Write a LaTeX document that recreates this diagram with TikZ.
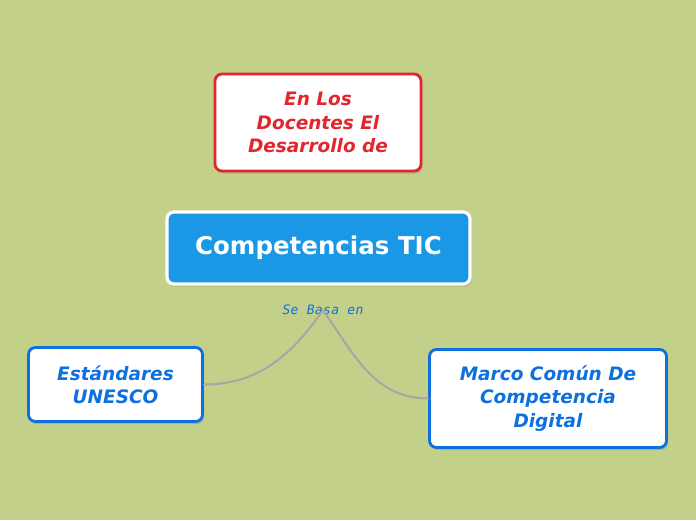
\documentclass[tikz,border=0pt]{standalone}
\usepackage{fontspec}
\setmainfont{DejaVu Sans}
\newfontfamily\basafont[LetterSpace=3]{DejaVu Sans Mono}
\usetikzlibrary{shadows}
\definecolor{mmbg}{RGB}{194, 208, 138}
\definecolor{mmred}{RGB}{226, 38, 46}
\definecolor{mmblue}{RGB}{26, 152, 230}
\definecolor{mmtext}{RGB}{14, 112, 222}
\definecolor{mmlink}{RGB}{166, 166, 166}

\begin{document}
\begin{tikzpicture}[x=1pt,y=-1pt,
    box/.style={draw, rounded corners=7pt, fill=white, align=center,
        line width=2.8pt, inner sep=0pt,
        font=\fontsize{18.5}{23.5}\selectfont\bfseries\itshape,
        drop shadow={opacity=0.35, shadow xshift=1.5pt, shadow yshift=-2.5pt}},
    link/.style={draw=mmlink, line width=2pt, line cap=round}]
% background
\fill[mmbg] (0,0) rectangle (696,520);
% main topic
\node[box, fill=mmblue, draw=white, line width=3.2pt, text=white,
    minimum width=303, minimum height=72,
    font=\fontsize{24.5}{28}\selectfont\bfseries] (tic) at (318.5,248) {Competencias TIC};
% floating topic
\node[box, draw=mmred, text=mmred, minimum width=206, minimum height=97] (docentes) at (318,122.5)
    {En Los\\Docentes El\\Desarrollo de};
% relation label
\node[text=mmtext, font=\basafont\itshape\fontsize{13}{15}\selectfont] (basa) at (323,310) {Se Basa en};
% subtopics
\node[box, draw=mmtext, text=mmtext, minimum width=174, minimum height=74] (unesco) at (115.5,384.5)
    {Estándares\\UNESCO};
\node[box, draw=mmtext, text=mmtext, minimum width=237, minimum height=98] (marco) at (548,398.5)
    {Marco Común De\\Competencia\\Digital};
% connectors
\draw[link] (basa.center) to[out=235, in=0] (unesco.east);
\draw[link] (basa.center) to[out=-55, in=180] (marco.west);
\end{tikzpicture}
\end{document}
